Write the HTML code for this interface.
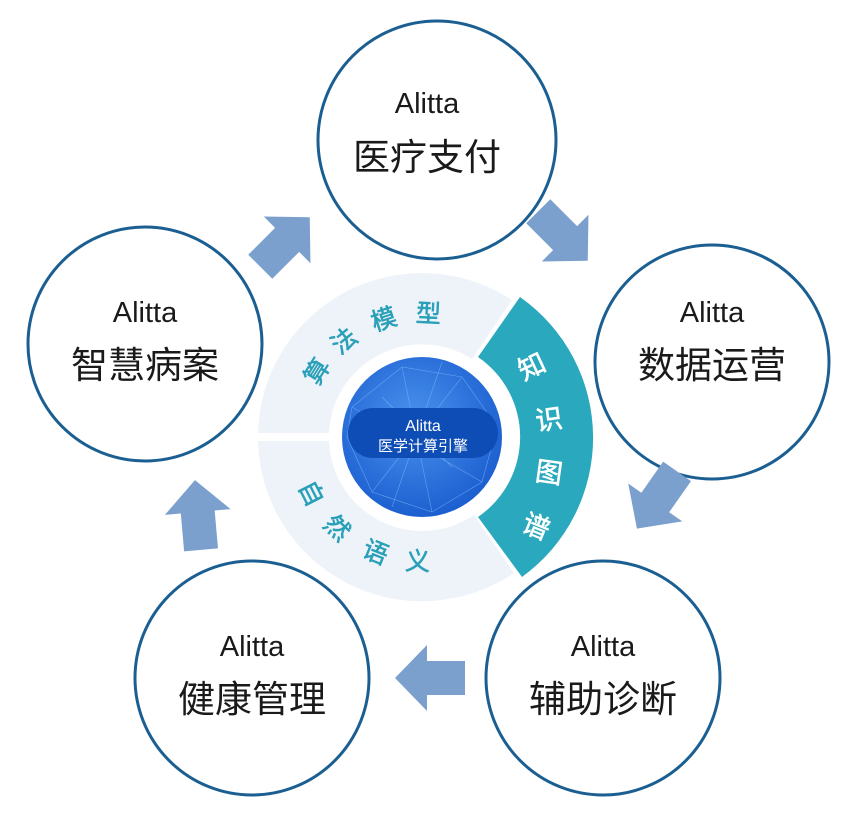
<!DOCTYPE html>
<html><head><meta charset="utf-8"><style>
html,body{margin:0;padding:0;background:#fff;width:846px;height:816px;overflow:hidden}
svg text{font-family:"Liberation Sans","Noto Sans CJK SC",sans-serif}
</style></head><body>
<svg width="846" height="816" viewBox="0 0 846 816" xmlns="http://www.w3.org/2000/svg">
<defs>
<radialGradient id="sg" cx="45%" cy="40%" r="60%">
<stop offset="0" stop-color="#4a93ee"/><stop offset="1" stop-color="#1c5fd0"/>
</radialGradient>
<polygon id="arr" points="-35,-17 3,-17 3,-33 35,0 3,33 3,17 -35,17" fill="#7ca0cd"/>
</defs>
<!-- ring -->
<g transform="translate(422,437)">
<path d="M -164 -4 A 164 164 0 0 1 90 -137 L 50 -78 A 93 93 0 0 0 -93 -4 Z" fill="#eef3fa"/>
<path d="M -164 4 A 164 164 0 0 0 92 136 L 52 78 A 93 93 0 0 1 -93 4 Z" fill="#eef3fa"/>
<path d="M 98 -140 A 172 172 0 0 1 100 140 L 56 80 A 97 97 0 0 0 56 -80 Z" fill="#2aa8bd"/>
<circle r="80" fill="url(#sg)"/>
<g stroke="#8fc0ff" stroke-width="0.6" opacity="0.6" fill="none">
<path d="M-70 -30 L-20 -70 L40 -60 L75 -10 L60 45 L10 75 L-50 55 L-75 0 Z M-20 -70 L10 75 M40 -60 L-50 55 M-70 -30 L60 45 M75 -10 L-75 0 M-40 -40 L30 30 M20 -75 L-30 70"/>
</g>
<rect x="-74" y="-29" width="150" height="50" rx="25" fill="#0d4db5"/>
<text x="1" y="-6" font-size="16" fill="#fff" text-anchor="middle">Alitta</text>
<text x="1" y="14" font-size="15" fill="#fff" text-anchor="middle">医学计算引擎</text>
<g font-size="25" fill="#2aa0b8" text-anchor="middle" stroke="#2aa0b8" stroke-width="0.6">
<text transform="rotate(212) translate(124,0) rotate(90)" y="9">算</text>
<text transform="rotate(231) translate(124,0) rotate(90)" y="9">法</text>
<text transform="rotate(252) translate(124,0) rotate(90)" y="9">模</text>
<text transform="rotate(273) translate(124,0) rotate(90)" y="9">型</text>
<text transform="rotate(153) translate(124,0) rotate(-90)" y="9">自</text>
<text transform="rotate(133) translate(124,0) rotate(-90)" y="9">然</text>
<text transform="rotate(112) translate(124,0) rotate(-90)" y="9">语</text>
<text transform="rotate(92) translate(124,0) rotate(-90)" y="9">义</text>
</g>
<g font-size="27" fill="#fff" text-anchor="middle" stroke="#fff" stroke-width="0.6">
<text transform="translate(110,-70) rotate(-25)" y="9">知</text>
<text transform="translate(127,-17) rotate(-8)" y="9">识</text>
<text transform="translate(127,36) rotate(8)" y="9">图</text>
<text transform="translate(114,90) rotate(22)" y="9">谱</text>
</g>
</g>
<!-- circles -->
<g fill="#fff" stroke="#1b5f92" stroke-width="3">
<circle cx="437" cy="140" r="119"/>
<circle cx="712" cy="362" r="117"/>
<circle cx="145" cy="344" r="117"/>
<circle cx="252" cy="678" r="117"/>
<circle cx="603" cy="678" r="117"/>
</g>
<!-- arrows -->
<use href="#arr" transform="translate(285,242) rotate(-45)"/>
<use href="#arr" transform="translate(563,236) rotate(45)"/>
<use href="#arr" transform="translate(657,500) rotate(125)"/>
<use href="#arr" transform="translate(430,678) rotate(180)"/>
<use href="#arr" transform="translate(198,515) rotate(-95)"/>
<g text-anchor="middle" fill="#1a1a1a">
<text x="427" y="113" font-size="29">Alitta</text><text x="427" y="170" font-size="37">医疗支付</text>
<text x="712" y="322" font-size="29">Alitta</text><text x="712" y="378" font-size="37">数据运营</text>
<text x="145" y="322" font-size="29">Alitta</text><text x="145" y="378" font-size="37">智慧病案</text>
<text x="252" y="656" font-size="29">Alitta</text><text x="252" y="712" font-size="37">健康管理</text>
<text x="603" y="656" font-size="29">Alitta</text><text x="603" y="712" font-size="37">辅助诊断</text>
</g>
</svg>
</body></html>
